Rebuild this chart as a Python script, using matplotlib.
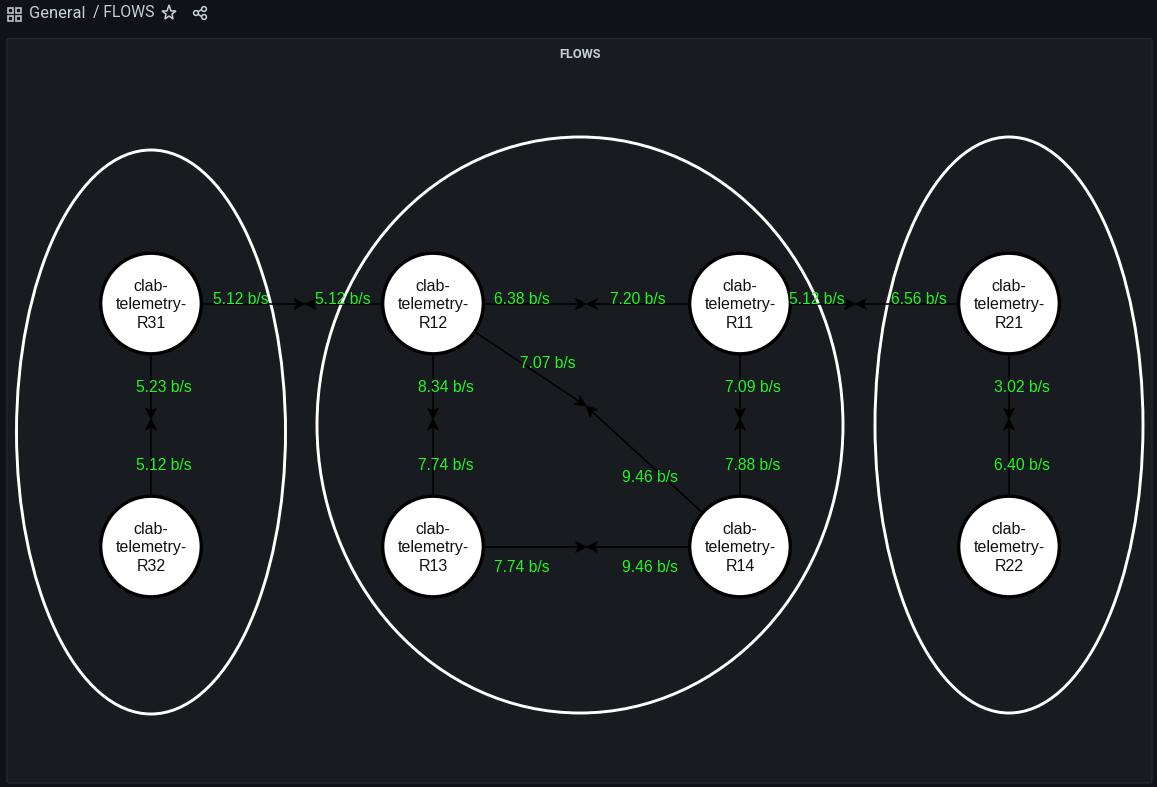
import numpy as np
import matplotlib
matplotlib.use('Agg')
import matplotlib.pyplot as plt
from matplotlib.patches import Circle, Ellipse, FancyBboxPatch, Polygon, Rectangle

# Datos del grafo
routers = ['R31', 'R32', 'R12', 'R13', 'R11', 'R14', 'R21', 'R22']
flow_src = ['R31', 'R12', 'R31', 'R32', 'R12', 'R11', 'R11', 'R21', 'R12', 'R13', 'R12', 'R14', 'R11', 'R14', 'R13', 'R14', 'R21', 'R22']
flow_dst = ['R12', 'R31', 'R32', 'R31', 'R11', 'R12', 'R21', 'R11', 'R13', 'R12', 'R14', 'R12', 'R14', 'R11', 'R14', 'R13', 'R22', 'R21']
flow_rate = [5.12, 5.12, 5.23, 5.12, 6.38, 7.20, 5.12, 6.56, 8.34, 7.74, 7.07, 9.46, 7.09, 7.88, 7.74, 9.46, 3.02, 6.40]
flow_unit = 'b/s'

# Posiciones en pixeles del panel
node_pos = {'R31': (151, 304), 'R32': (151, 547), 'R12': (433, 304), 'R13': (433, 547),
            'R11': (740, 304), 'R14': (740, 547), 'R21': (1009, 304), 'R22': (1009, 547)}
meet_points = {('R12', 'R31'): (305, 304), ('R11', 'R12'): (586.5, 304), ('R11', 'R21'): (855.5, 304),
               ('R31', 'R32'): (151, 419), ('R12', 'R13'): (433, 419), ('R11', 'R14'): (740, 419),
               ('R21', 'R22'): (1009, 419), ('R12', 'R14'): (586, 406), ('R13', 'R14'): (586.5, 547)}
label_pos = [(240.5, 299.5), (343, 299.5), (163.5, 387.5), (163.5, 465.5), (522, 299.5), (637.5, 299.5), (817, 299.5), (919, 299.5),
             (446, 388), (446, 465.5), (548, 363.5), (650, 478), (752.5, 388), (752.5, 465.5), (522, 568), (650, 568),
             (1021.5, 388), (1021.5, 465.5)]
groups = [(151, 432, 269, 564), (580, 425, 526, 576), (1009, 425, 268, 576)]

W, H = 1157, 787
BG = '#111217'
PANEL = '#181b1f'
TXT = '#c7d0d9'

fig = plt.figure(figsize=(W / 100, H / 100), dpi=100, facecolor=BG)
ax = fig.add_axes([0, 0, 1, 1])
ax.set_xlim(0, W)
ax.set_ylim(H, 0)
ax.axis('off')


def dibujar_flecha(ini, fin):
    # linea con punta tipo "classic" que termina en fin
    ini, fin = np.array(ini, float), np.array(fin, float)
    d = (fin - ini) / np.linalg.norm(fin - ini)
    n = np.array([-d[1], d[0]])
    ax.plot([ini[0], (fin - d * 8)[0]], [ini[1], (fin - d * 8)[1]], color='black', lw=1.1, zorder=3, solid_capstyle='butt')
    pts = [fin, fin - d * 11 + n * 5.5, fin - d * 8, fin - d * 11 - n * 5.5]
    ax.add_patch(Polygon(pts, closed=True, fc='black', ec='black', lw=0.5, zorder=3))


# Encabezado
for dx in (0, 8):
    for dy in (0, 8):
        ax.add_patch(Rectangle((8 + dx, 8 + dy), 5, 5, fc='none', ec=TXT, lw=1.1))
ax.text(29, 13, 'General', color=TXT, fontsize=11.9, family='Roboto', va='center')
ax.text(93, 13, '/ FLOWS', color=TXT, fontsize=11.3, family='Roboto', va='center')
ax.plot([169], [13], marker='*', ms=11, mfc='none', mec=TXT, mew=1.1)
ax.plot([204, 196, 204], [8, 13, 18], color=TXT, lw=1.1)
for p in [(204, 9), (196, 13), (204, 17)]:
    ax.add_patch(Circle(p, 2.4, fc=BG, ec=TXT, lw=1.1, zorder=3))

# Panel
ax.add_patch(FancyBboxPatch((7, 38.5), 1145, 744.5, boxstyle='round,pad=0,rounding_size=2', fc=PANEL, ec='#25282c', lw=1))
ax.text(580, 54, 'FLOWS', color=TXT, fontsize=9.2, fontweight='bold', family='Roboto', ha='center', va='center')

# Grupos
for cx, cy, w, h in groups:
    ax.add_patch(Ellipse((cx, cy), w, h, fc='none', ec='white', lw=2.1, zorder=2))

# Flujos
for src, dst in zip(flow_src, flow_dst):
    key = (src, dst) if (src, dst) in meet_points else (dst, src)
    dibujar_flecha(node_pos[src], meet_points[key])

# Nodos
for r in routers:
    x, y = node_pos[r]
    ax.add_patch(Circle((x, y - 0.5), 50.3, fc='white', ec='black', lw=2.4, zorder=4))
    ax.text(x, y + 0.7, 'clab-\ntelemetry-\n' + r, color='#111111', fontsize=11.5, family='Liberation Sans',
            ha='center', va='center', linespacing=1.29, zorder=5)

# Etiquetas de tasa
for rate, (x, y) in zip(flow_rate, label_pos):
    ax.text(x, y, f'{rate:.2f} {flow_unit}', color='#24f524', fontsize=11.3, family='Liberation Sans',
            ha='center', va='center', zorder=6)

fig.savefig('out.png', dpi=100, facecolor=BG)
